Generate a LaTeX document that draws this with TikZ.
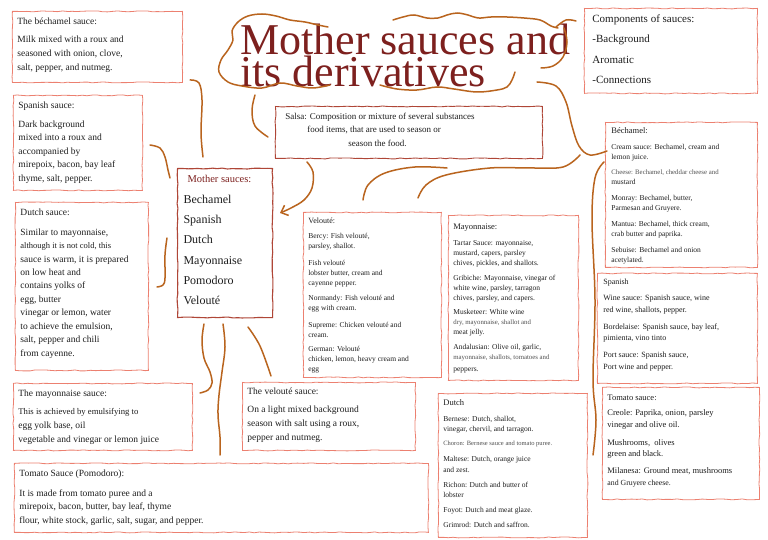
\documentclass[tikz,border=0pt]{standalone}
\usepackage{fontspec}
\setmainfont{Liberation Serif}
\usetikzlibrary{decorations.pathmorphing,arrows.meta}
\definecolor{conn}{RGB}{185,100,30}
\definecolor{boxred}{RGB}{236,128,112}
\definecolor{darkbox}{RGB}{175,70,55}
\definecolor{titlered}{RGB}{125,32,30}
\definecolor{ink}{RGB}{30,30,30}
\definecolor{soft}{RGB}{80,80,80}
\newcommand{\tb}[4]{\parbox[t][#2pt][t]{#1pt}{\rule{0pt}{#3pt}#4}}
\begin{document}
\begin{tikzpicture}[x=1pt,y=-1pt,
 sbox/.style={draw=boxred, line width=0.8pt, decorate, decoration={random steps,segment length=5pt,amplitude=0.5pt}, anchor=north west, inner ysep=0pt, inner xsep=5pt, text=ink},
 link/.style={draw=conn, line width=1.5pt, line cap=round, line join=round},
]
\useasboundingbox (0,0) rectangle (768,540);
\fill[white] (0,0) rectangle (768,540);

% ---------- title ----------
\node[anchor=north west, inner sep=0pt, text=titlered] (title) at (240,24)
 {\fontsize{44}{28}\selectfont\lineskiplimit=-100pt\lineskip=0pt\parbox[t]{340pt}{Mother sauces and\\its derivatives}};

\draw[link] plot[smooth, tension=0.6] coordinates {(330,85) (313,88) (297,86) (280,83) (262,88) (242,86) (228,82) (219,72) (221,60) (228,50) (233,40) (232,31) (238,22) (248,16) (262,14) (276,16) (290,20) (305,22) (318,25) (328,27)};
\draw[link] plot[smooth, tension=0.6] coordinates {(393,20) (403,17) (414,15) (427,18) (438,18) (447,15) (457,13) (468,15) (478,18) (491,17) (507,17) (524,18) (540,20) (551,26) (558,28)};
\draw[link] plot[smooth, tension=0.6] coordinates {(556,27) (566,20) (576,21)};
\draw[link] plot[smooth, tension=0.6] coordinates {(564,28) (567,42) (563,57) (553,66) (541,68)};
\draw[link] plot[smooth, tension=0.6] coordinates {(380,85) (397,89) (417,90) (437,87) (454,89) (477,92) (497,90) (507,87) (512,80) (515,72)};

% ---------- left column ----------
\node[sbox] (bsauce) at (12,11) {\tb{160}{71}{13}{\fontsize{9.5}{14}\selectfont The béchamel sauce:\\[4pt] Milk mixed with a roux and\\ seasoned with onion, clove,\\ salt, pepper, and nutmeg.}};

\node[sbox] (ssauce) at (13,95) {\tb{119}{95}{13}{\fontsize{9.5}{13.5}\selectfont Spanish sauce:\\[5.5pt] Dark background\\ mixed into a roux and\\ accompanied by\\ mirepoix, bacon, bay leaf\\ thyme, salt, pepper.}};

\node[sbox] (dsauce) at (15,202) {\tb{123}{168}{13}{\fontsize{9.5}{13.4}\selectfont Dutch sauce:\\[6.6pt] Similar to mayonnaise,\\ {\fontsize{8.5}{13.4}\selectfont although it is not cold, this}\\ sauce is warm, it is prepared\\ on low heat and\\ contains yolks of\\ egg, butter\\ vinegar or lemon, water\\ to achieve the emulsion,\\ salt, pepper and chili\\ from cayenne.}};

\node[sbox] (msauce) at (13,383) {\tb{169}{67}{13}{\fontsize{9.5}{14}\selectfont The mayonnaise sauce:\\[4pt] {\fontsize{8.7}{14}\selectfont This is achieved by emulsifying to}\\ egg yolk base, oil\\ vegetable and vinegar or lemon juice}};

\node[sbox] (tsauce) at (14,463) {\tb{404}{69}{13}{\fontsize{9.5}{13.5}\selectfont Tomato Sauce (Pomodoro):\\[6.5pt] It is made from tomato puree and a\\ mirepoix, bacon, butter, bay leaf, thyme\\ flour, white stock, garlic, salt, sugar, and pepper.}};

\node[sbox] (vsauce) at (242,382) {\tb{163}{68}{12}{\fontsize{9.5}{14}\selectfont The velouté sauce:\\[4pt] On a light mixed background\\ season with salt using a roux,\\ pepper and nutmeg.}};

% ---------- centre ----------
\node[sbox, draw=darkbox, line width=1.1pt, inner xsep=6pt] (mother) at (177,168) {\tb{83}{149}{14}{\fontsize{12}{20.2}\selectfont \hspace*{4pt}{\fontsize{10.5}{20.2}\selectfont\color{titlered}Mother sauces:}\\[0.8pt] Bechamel\\ Spanish\\ Dutch\\ Mayonnaise\\ Pomodoro\\ Velouté}};

\node[sbox, draw=darkbox, line width=0.9pt] (salsa) at (275,106) {\tb{257}{52}{13}{\fontsize{9}{13.5}\selectfont \hspace*{5pt}Salsa: Composition or mixture of several substances\\ \hspace*{27pt}food items, that are used to season or\\ \hspace*{68pt}season the food.}};

\node[sbox] (veloute) at (303,212) {\tb{128}{165}{11}{\fontsize{7.5}{10}\selectfont {\fontsize{8}{10}\selectfont Velouté:}\\[5.5pt] Bercy: Fish velouté,\\ parsley, shallot.\\[7pt] Fish velouté\\ lobster butter, cream and\\ cayenne pepper.\\[5pt] Normandy: Fish velouté and\\ egg with cream.\\[7pt] Supreme: Chicken velouté and\\ cream.\\[4pt] German: Velouté\\ chicken, lemon, heavy cream and\\ egg}};

\node[sbox] (mayo) at (448,215) {\tb{120}{165}{14}{\fontsize{7.5}{10}\selectfont {\fontsize{8.5}{10}\selectfont Mayonnaise:}\\[6.5pt] Tartar Sauce: mayonnaise,\\ mustard, capers, parsley\\ chives, pickles, and shallots.\\[5pt] Gribiche: Mayonnaise, vinegar of\\ white wine, parsley, tarragon\\ chives, parsley, and capers.\\[4pt] Musketeer: White wine\\ {\fontsize{6.8}{10}\selectfont\color{soft}dry, mayonnaise, shallot and}\\ meat jelly.\\[5pt] Andalusian: Olive oil, garlic,\\ {\fontsize{6.8}{10}\selectfont\color{soft}mayonnaise, shallots, tomatoes and}\\[2pt] peppers.}};

\node[sbox] (dutch) at (438,393) {\tb{139}{144}{12}{\fontsize{7.5}{10}\selectfont {\fontsize{8.5}{10}\selectfont Dutch}\\[6.5pt] Bernese: Dutch, shallot,\\ vinegar, chervil, and tarragon.\\[4pt] {\fontsize{6.5}{10}\selectfont\color{soft}Choron: Bernese sauce and tomato puree.}\\[6pt] Maltese: Dutch, orange juice\\[1pt] and zest.\\[5pt] Richon: Dutch and butter of\\ lobster\\[5pt] Foyot: Dutch and meat glaze.\\[5pt] Grimrod: Dutch and saffron.}};

% ---------- right column ----------
\node[sbox, inner xsep=8pt] (comp) at (584,8) {\tb{157}{85}{14}{\fontsize{11}{20.5}\selectfont Components of sauces:\\ -Background\\ Aromatic\\ -Connections}};

\node[sbox, inner xsep=6pt] (bech) at (605,122) {\tb{140}{145}{11}{\fontsize{7.5}{10}\selectfont {\fontsize{8.5}{10}\selectfont Béchamel:}\\[6.5pt] Cream sauce: Bechamel, cream and\\ lemon juice.\\[5pt] {\fontsize{6.8}{10}\selectfont\color{soft}Cheese: Bechamel, cheddar cheese and}\\ mustard\\[6pt] Monray: Bechamel, butter,\\ Parmesan and Gruyere.\\[6pt] Mantua: Bechamel, thick cream,\\ crab butter and paprika.\\[6pt] Sebuise: Bechamel and onion\\ acetylated.}};

\node[sbox, inner xsep=6pt] (span) at (597,273) {\tb{148}{110}{11}{\fontsize{8}{11.5}\selectfont Spanish\\[5pt] Wine sauce: Spanish sauce, wine\\ red wine, shallots, pepper.\\[5.5pt] Bordelaise: Spanish sauce, bay leaf,\\ pimienta, vino tinto\\[5.5pt] Port sauce: Spanish sauce,\\ Port wine and pepper.}};

\node[sbox] (tom) at (602,387) {\tb{147}{112}{13}{\fontsize{8.5}{11.5}\selectfont Tomato sauce:\\[4pt] Creole: Paprika, onion, parsley\\ vinegar and olive oil.\\[6.5pt] Mushrooms,\ \ olives\\ green and black.\\[5.5pt] Milanesa: Ground meat, mushrooms\\ {\fontsize{7.8}{11.5}\selectfont and Gruyere cheese.}}};

% ---------- connectors ----------
\coordinate (c1a) at (190,80);  \coordinate (c1b) at (203,157);
\draw[link] plot[smooth, tension=0.6] coordinates {(c1a) (199,83) (202,100) (201,133) (c1b)};
\coordinate (c2a) at (150,145); \coordinate (c2b) at (170,178);
\draw[link] plot[smooth, tension=0.6] coordinates {(c2a) (160,148) (165,157) (168,170) (c2b)};
\coordinate (c3a) at (167,238); \coordinate (c3b) at (157,287);
\draw[link] plot[smooth, tension=0.6] coordinates {(c3a) (165,255) (165,278) (163,285) (c3b)};
\coordinate (c4a) at (204,324); \coordinate (c4b) at (200,393);
\draw[link] plot[smooth, tension=0.6] coordinates {(c4a) (202,340) (204,358) (210,372) (212,383) (208,390) (c4b)};
\coordinate (c5a) at (223,324); \coordinate (c5b) at (220,455);
\draw[link] plot[smooth, tension=0.6] coordinates {(c5a) (225,347) (222,372) (219,395) (218,415) (220,437) (c5b)};
\coordinate (c6a) at (248,327); \coordinate (c6b) at (271,376);
\draw[link] plot[smooth, tension=0.6] coordinates {(c6a) (260,346) (c6b)};
\coordinate (c7a) at (307,162); \coordinate (c7b) at (280,213);
\draw[link, -{Straight Barb[length=6pt,width=11pt]}] plot[smooth, tension=0.6] coordinates {(c7a) (313,172) (312,188) (304,200) (291,208) (c7b)};
\coordinate (c8a) at (255,95); \coordinate (c8b) at (268,137);
\draw[link] plot[smooth, tension=0.6] coordinates {(c8a) (252,110) (255,126) (c8b)};
\coordinate (c9a) at (363,200); \coordinate (c9b) at (447,168);
\draw[link] plot[smooth, tension=0.6] coordinates {(c9a) (368,185) (385,173) (415,167) (c9b)};
\coordinate (c10a) at (418,198); \coordinate (c10b) at (580,155);
\draw[link] plot[smooth, tension=0.6] coordinates {(c10a) (426,185) (446,175) (490,168) (530,168) (563,167) (c10b)};
\coordinate (c11a) at (537,82); \coordinate (c11b) at (607,151);
\draw[link] plot[smooth, tension=0.6] coordinates {(c11a) (556,86) (566,102) (572,126) (579,146) (590,155) (c11b)};
\coordinate (c12a) at (604,162); \coordinate (c12b) at (593,455);
\draw[link] plot[smooth, tension=0.6] coordinates {(c12a) (595,178) (592,220) (595,300) (593,380) (596,420) (c12b)};
\end{tikzpicture}
\end{document}
